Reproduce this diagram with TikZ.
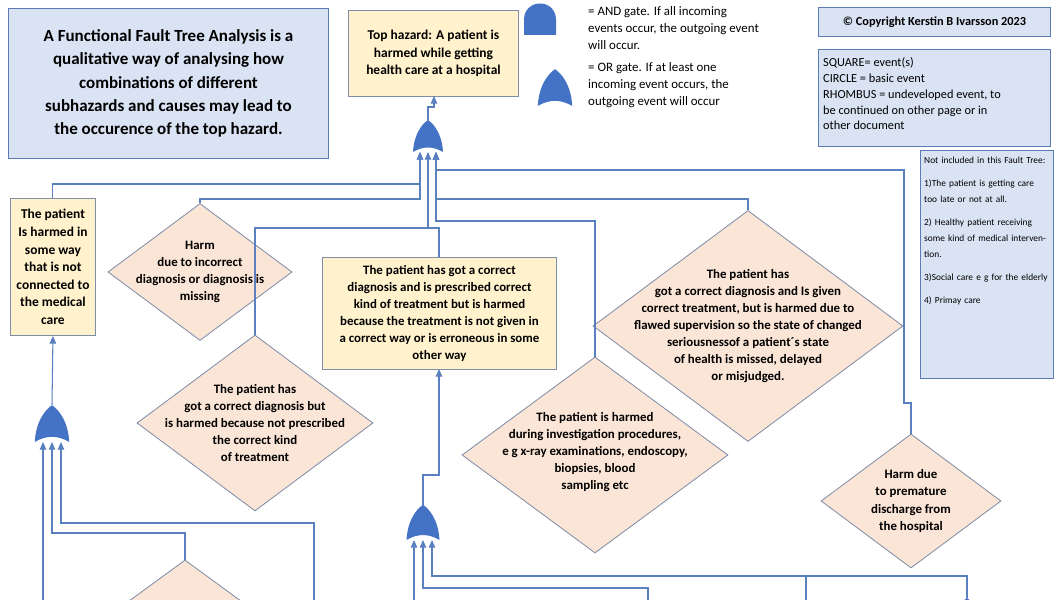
\documentclass[tikz,border=0pt]{standalone}
\usepackage{fontspec}
\setmainfont{Carlito}
\usetikzlibrary{shapes.geometric,arrows.meta}
\definecolor{ln}{HTML}{5B80C0}
\definecolor{gate}{HTML}{4472C4}
\definecolor{boxf}{HTML}{FFF2CC}
\definecolor{boxd}{HTML}{7F8DA8}
\definecolor{dia}{HTML}{FBE5D6}
\definecolor{leg}{HTML}{DAE3F3}
\definecolor{legd}{HTML}{5B7BB5}
\tikzset{
 conn/.style={draw=ln,line width=0.9pt},
 arr/.style={conn,-{Triangle[width=5.5pt,length=6.5pt]}},
 evbox/.style={draw=boxd,fill=boxf,line width=0.8pt,font=\bfseries\fontsize{11.5}{15}\selectfont,align=center,inner sep=0pt},
 dshape/.style={diamond,draw=boxd,fill=dia,line width=0.7pt,inner sep=0pt,aspect=1},
 dtext/.style={font=\bfseries\fontsize{11}{14.6}\selectfont,align=center},
 legbox/.style={draw=legd,fill=leg,line width=0.8pt},
 gatefill/.style={fill=gate,draw=none},
}
\newcommand{\orgate}[3]{% x, y(bottom), scale
 \path[gatefill] (#1-15*#3,#2) .. controls (#1-14*#3,#2-18*#3) and (#1-6*#3,#2-28*#3) .. (#1,#2-32*#3)
   .. controls (#1+6*#3,#2-28*#3) and (#1+14*#3,#2-18*#3) .. (#1+15*#3,#2)
   .. controls (#1+5*#3,#2-6*#3) and (#1-5*#3,#2-6*#3) .. (#1-15*#3,#2) -- cycle;}
\begin{document}
\begin{tikzpicture}[x=0.03cm,y=-0.03cm]
\useasboundingbox (0,0) rectangle (1059,600);
\fill[white] (0,0) rectangle (1059,600);
% intro
\node[legbox,minimum width=320*0.03cm,minimum height=150*0.03cm,anchor=north west,
 font=\bfseries\fontsize{14.5}{20}\selectfont,align=center] (intro) at (8,8)
 {A Functional Fault Tree Analysis is a\\qualitative way of analysing how\\combinations of different\\subhazards and causes may lead to\\the occurence of the top hazard.};
% top hazard
\node[evbox,minimum width=170*0.03cm,minimum height=86*0.03cm,anchor=north west] (top) at (348,10)
 {Top hazard: A patient is\\harmed while getting\\health care at a hospital};
% legends
\path[gatefill] (524,35) -- (524,20) .. controls (524,-2) and (556,-2) .. (556,20) -- (556,35) -- cycle;
\node[anchor=north west,align=left,font=\fontsize{11}{14.6}\selectfont,inner sep=0pt] (andtxt) at (588,6)
 {= AND gate. If all incoming\\events occur, the outgoing event\\will occur.};
\orgate{555}{106}{1.15}
\node[anchor=north west,align=left,font=\fontsize{11}{14.6}\selectfont,inner sep=0pt] (ortxt) at (588,62)
 {= OR gate. If at least one\\incoming event occurs, the\\outgoing event will occur};
\node[legbox,minimum width=232*0.03cm,minimum height=29*0.03cm,anchor=north west,
 font=\bfseries\fontsize{10.5}{13}\selectfont] (copy) at (818,7) {© Copyright Kerstin B Ivarsson 2023};
\node[legbox,minimum width=232*0.03cm,minimum height=97*0.03cm,anchor=north west] (legend) at (818,49) {};
\node[anchor=north west,align=left,font=\fontsize{10.5}{13.6}\selectfont,inner sep=0pt] (legtxt) at (823,57)
 {SQUARE= event(s)\\CIRCLE = basic event\\RHOMBUS = undeveloped event, to\\be continued on other page or in\\other document};
\node[legbox,minimum width=133*0.03cm,minimum height=228*0.03cm,anchor=north west] (notinc) at (920,150) {};
\node[anchor=north west,align=left,text width=125*0.03cm,font=\fontsize{8}{13.6}\selectfont,inner sep=0pt] (nottxt) at (924,157)
 {Not included in this Fault Tree:\\[6pt]1)The patient is getting care too late or not at all.\\[6pt]2) Healthy patient receiving some kind of medical intervention.\\[6pt]3)Social care e g for the elderly\\[6pt]4) Primay care};
% events
\node[evbox,minimum width=85*0.03cm,minimum height=137*0.03cm,anchor=north west] (b1) at (10,198)
 {The patient\\Is harmed in\\some way\\that is not\\connected to\\the medical\\care};
\node[evbox,minimum width=234*0.03cm,minimum height=112*0.03cm,anchor=north west,font=\bfseries\fontsize{11}{14.6}\selectfont] (b2) at (322,257)
 {The patient has got a correct\\diagnosis and is prescribed correct\\kind of treatment but is harmed\\because the treatment is not given in\\a correct way or is erroneous in some\\other way};
% diamonds
\node[dshape,minimum width=184*0.03cm,minimum height=137*0.03cm] (d1) at (200,272) {};
\node[dtext] at (200,272) {Harm\\due to incorrect\\diagnosis or diagnosis is\\missing};
\node[dshape,minimum width=236*0.03cm,minimum height=176*0.03cm] (d2) at (255,423) {};
\node[dtext] at (255,423) {The patient has\\got a correct diagnosis but\\is harmed because not prescribed\\the correct kind\\of treatment};
\node[dshape,minimum width=266*0.03cm,minimum height=196*0.03cm] (d3) at (595,455) {};
\node[dtext] at (595,452) {The patient is harmed\\during investigation procedures,\\e g x-ray examinations, endoscopy,\\biopsies, blood\\sampling etc};
\node[dshape,minimum width=310*0.03cm,minimum height=231*0.03cm] (d4) at (748,326) {};
\node[dtext] at (748,326) {The patient has\\got a correct diagnosis and Is given\\correct treatment, but is harmed due to\\flawed supervision so the state of changed\\seriousnessof a patient´s state\\of health is missed, delayed\\or misjudged.};
\node[dshape,minimum width=180*0.03cm,minimum height=134*0.03cm] (d5) at (911,501) {};
\node[dtext] at (911,501) {Harm due\\to premature\\discharge from\\the hospital};
\node[dshape,minimum width=274*0.03cm,minimum height=200*0.03cm] (d6) at (185,660) {};
% gates
\orgate{428}{152}{1}
\orgate{52}{442}{1.15}
\orgate{423}{540}{1.1}
\orgate{967}{630}{1}
\coordinate (g1) at (428,122); \coordinate (g1a) at (420,152); \coordinate (g1b) at (428,152); \coordinate (g1c) at (436,152);
\coordinate (g2) at (52,405); \coordinate (g2a) at (43,442); \coordinate (g2b) at (52,442); \coordinate (g2c) at (61,442);
\coordinate (g3) at (423,505); \coordinate (g3a) at (414,540); \coordinate (g3b) at (423,540); \coordinate (g3c) at (432,540);
% outputs
\draw[arr] (g1) -- (428,107) -- (434,107) -- (434,96);
\draw[arr] (g2) -- (b1.south);
\draw[arr] (g3) -- (423,475) -- (439,475) -- (439,369);
% top gate inputs
\draw[arr] (b1.north) |- (420,184) -- (g1a);
\draw[arr] (d1.north) |- (420,199) -- (g1a);
\draw[arr] (d2.north) |- (428,228) -- (g1b);
\draw[conn] (439,257) |- (428,228);
\draw[arr] (d3.north) |- (436,221) -- (g1c);
\draw[arr] (d4.north) |- (436,199) -- (g1c);
\draw[arr] (d5.north) -- (911,403) -- (904,403) |- (436,170) -- (g1c);
% left gate inputs
\draw[arr] (43,600) -- (g2a);
\draw[arr] (d6.north) |- (52,533) -- (g2b);
\draw[arr] (314,600) |- (61,523) -- (g2c);
% middle gate inputs
\draw[arr] (414,600) -- (g3a);
\draw[arr] (648,600) |- (423,588) -- (g3b);
\draw[arr] (967,598) |- (432,576) -- (g3c);
\draw[conn] (806,576) -- (806,600);
\end{tikzpicture}
\end{document}
